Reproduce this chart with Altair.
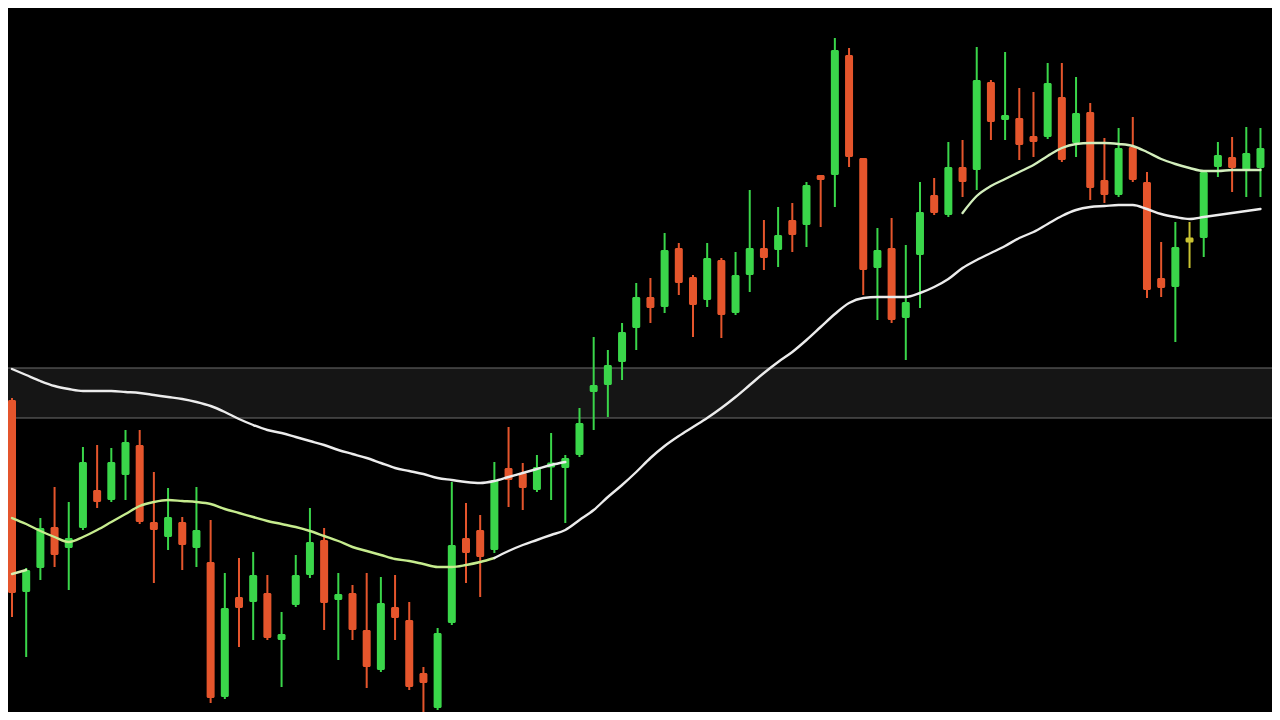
import altair as alt
import pandas as pd
import numpy as np

# ---- candle data (price units) ----
idx = list(range(1, 90))
open_ = [320, 128, 152, 193, 172, 192, 230, 220, 245, 275,
         198, 183, 198, 172, 158, 23, 123, 118, 127, 80,
         115, 145, 180, 120, 127, 90, 50, 113, 100, 47,
         12, 97, 182, 190, 170, 252, 247, 230, 253, 252,
         265, 328, 335, 358, 392, 423, 413, 472, 443, 420,
         460, 407, 445, 472, 470, 500, 495, 545, 545, 665,
         562, 452, 472, 402, 465, 525, 505, 553, 550, 638,
         600, 602, 584, 583, 623, 577, 608, 540, 525, 573,
         538, 442, 433, 480, 482, 553, 563, 550, 552]
high = [322, 152, 202, 233, 218, 273, 275, 272, 290, 290,
        248, 232, 203, 233, 200, 147, 162, 168, 145, 108,
        165, 212, 192, 147, 135, 147, 143, 145, 118, 53,
        92, 238, 217, 205, 258, 293, 257, 265, 287, 265,
        312, 383, 370, 397, 437, 442, 487, 477, 445, 477,
        462, 468, 530, 500, 513, 517, 538, 545, 682, 672,
        562, 492, 502, 475, 538, 542, 578, 580, 673, 640,
        668, 632, 628, 657, 657, 643, 617, 582, 592, 603,
        548, 478, 498, 498, 550, 578, 583, 593, 592]
low = [103, 63, 140, 153, 130, 190, 212, 218, 220, 196,
       137, 170, 150, 153, 17, 21, 73, 80, 80, 33,
       113, 142, 90, 60, 80, 32, 48, 80, 30, 2,
       10, 95, 137, 123, 167, 213, 210, 228, 220, 197,
       263, 290, 303, 340, 370, 397, 407, 425, 383, 413,
       382, 405, 428, 450, 453, 468, 473, 493, 513, 553,
       425, 400, 397, 360, 412, 505, 503, 523, 530, 580,
       580, 560, 563, 581, 558, 563, 520, 517, 523, 538,
       422, 423, 378, 452, 463, 543, 528, 523, 523]
close = [127, 150, 192, 165, 182, 258, 218, 258, 278, 198,
         190, 203, 175, 190, 22, 112, 112, 145, 82, 86,
         145, 178, 117, 126, 90, 53, 117, 102, 33, 37,
         87, 175, 167, 163, 240, 240, 232, 253, 257, 262,
         297, 335, 355, 388, 423, 412, 470, 437, 415, 462,
         405, 445, 472, 462, 485, 485, 535, 540, 670, 563,
         450, 470, 400, 418, 508, 507, 553, 538, 640, 598,
         605, 575, 578, 637, 560, 607, 532, 525, 572, 540,
         430, 432, 473, 480, 548, 565, 552, 567, 572]

# ---- moving-average style lines ----
ma_slow = [351, 345, 339, 334, 331, 329, 329, 329, 328, 327,
           325, 323, 321, 318, 314, 308, 301, 295, 290, 287,
           283, 279, 275, 270, 266, 262, 257, 252, 249, 246,
           242, 240, 238, 237, 239, 243, 247, 251, 255, 258]  # candles 1..40
ma_mid = [202, 196, 189, 183, 178, 183, 190, 198, 206, 214,
          218, 220, 219, 218, 216, 211, 207, 203, 199, 196,
          193, 189, 184, 179, 173, 169, 165, 161, 159, 156,
          153, 153, 155, 158, 162, 169, 175, 180, 185, 190,
          200, 210, 223, 235, 248, 262, 274, 284, 293, 302,
          312, 323, 335, 347, 358, 368, 380, 393, 406, 417,
          422, 423, 423, 423, 427, 433, 441, 452, 460, 467,
          474, 482, 488, 496, 504, 510, 513, 514, 515, 515,
          511, 506, 503, 501, 503, 505, 507, 509, 511]  # candles 1..89
ma_mid_green_until = 35
ma_upper = [507, 524, 534, 541, 548, 555, 564, 572, 576, 577, 577,
            576, 574, 568, 561, 556, 552, 549, 549, 550, 550, 550]  # candles 68..89
ma_upper_start = 68
ma_short = [146, 150]  # candles 1..2

band_top, band_bottom = 352, 302

# ---- frames ----
df = pd.DataFrame(dict(i=idx, o=open_, h=high, l=low, c=close))
df["dir"] = np.where(df.c > df.o, "up", np.where(df.c < df.o, "down", "flat"))
mid = (df.o + df.c) / 2
half = np.maximum((df.c - df.o).abs() / 2, 2.5)
df["bt"] = mid + half
df["bb"] = mid - half

rows = []
for k, v in enumerate(ma_slow):
    rows.append(dict(i=k + 1, v=v, s="slow"))
for k, v in enumerate(ma_mid):
    if k + 1 <= ma_mid_green_until:
        rows.append(dict(i=k + 1, v=v, s="mid_g"))
    if k + 1 >= ma_mid_green_until:
        rows.append(dict(i=k + 1, v=v, s="mid_w"))
for k, v in enumerate(ma_upper):
    rows.append(dict(i=ma_upper_start + k, v=v, s="upper"))
for k, v in enumerate(ma_short):
    rows.append(dict(i=k + 1, v=v, s="short"))
lines_df = pd.DataFrame(rows)

W, H = 1264, 704
xs = alt.Scale(domain=[1.07, 89.46], nice=False, zero=False)
ys = alt.Scale(domain=[8, 712], nice=False, zero=False)
X = alt.X("i:Q", scale=xs, axis=None)

band = alt.Chart(pd.DataFrame(dict(t=[band_top], b=[band_bottom]))).mark_rect(
    color="#151515").encode(
    y=alt.Y("t:Q", scale=ys, axis=None), y2="b:Q",
    x=alt.value(0), x2=alt.value(W))

band_lines = alt.Chart(pd.DataFrame(dict(v=[band_top, band_bottom]))).mark_rule(
    color="#6e6e6e", strokeWidth=1.2).encode(
    y=alt.Y("v:Q", scale=ys, axis=None))

cscale = alt.Scale(domain=["up", "down", "flat"],
                   range=["#3ad64a", "#e5552c", "#c9c232"])

wicks = alt.Chart(df).mark_rule(strokeWidth=2, clip=True).encode(
    x=X, y=alt.Y("h:Q", scale=ys, axis=None), y2="l:Q",
    color=alt.Color("dir:N", scale=cscale, legend=None))

bodies = alt.Chart(df).mark_bar(size=8, cornerRadius=1.5, clip=True).encode(
    x=X, y=alt.Y("bt:Q", scale=ys, axis=None), y2="bb:Q",
    color=alt.Color("dir:N", scale=cscale, legend=None))

lscale = alt.Scale(domain=["slow", "mid_g", "mid_w", "upper", "short"],
                   range=["#ececec", "#c6ec8e", "#ececec", "#d2eebc", "#d8f0b0"])

lines = alt.Chart(lines_df).mark_line(strokeWidth=2.4, clip=True,
                                      strokeCap="round", interpolate="monotone").encode(
    x=X, y=alt.Y("v:Q", scale=ys, axis=None),
    color=alt.Color("s:N", scale=lscale, legend=None),
    detail="s:N")

chart = alt.layer(band, band_lines, wicks, bodies, lines).resolve_scale(
    color="independent").properties(
    width=W, height=H, padding=0, autosize="none", background="#000000"
).configure_view(strokeWidth=0, fill="#000000")

chart.save("out.html", embed_options={"renderer": "svg", "actions": False})
